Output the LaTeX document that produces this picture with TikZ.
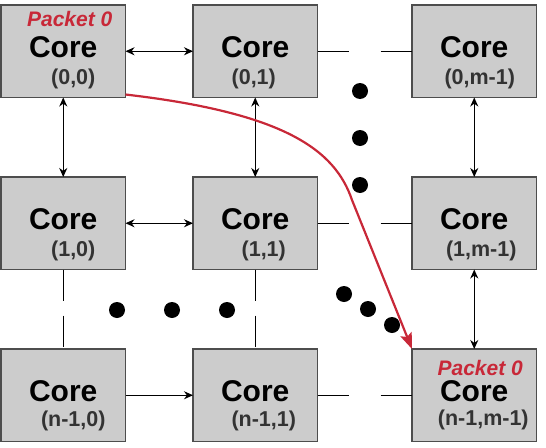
\documentclass[tikz,border=0pt]{standalone}
\usepackage{fontspec}
\setmainfont{Liberation Sans}
\usepackage{tikz}
\usetikzlibrary{matrix,arrows.meta}

\definecolor{boxgray}{RGB}{204,204,204}
\definecolor{boxline}{RGB}{77,77,77}
\definecolor{labelgray}{RGB}{51,51,51}
\definecolor{packetred}{RGB}{200,40,56}

\tikzset{
  corebox/.style={draw=boxline, fill=boxgray, line width=1.5pt,
    minimum width=124.5pt, minimum height=92.5pt, inner sep=0pt,
    font=\bfseries\fontsize{30}{36}\selectfont, text height=21pt, text depth=9pt},
  coord/.style={text=labelgray, inner sep=0pt,
    font=\bfseries\fontsize{21.5}{25}\selectfont},
  packet/.style={text=packetred, inner sep=0pt,
    font=\bfseries\itshape\fontsize{21}{25}\selectfont},
  link/.style={line width=1.4pt, >={Stealth[length=9pt,width=8pt]}},
  gaph/.style={link, dash pattern=on 31pt off 32pt},
  gapv/.style={link, dash pattern=on 31pt off 15pt}
}

\begin{document}
\begin{tikzpicture}[x=1pt, y=-1pt]
  \useasboundingbox (0,0) rectangle (546,447);
  \matrix (m) [matrix of nodes, nodes={corebox}, row sep=78pt, column sep=66pt,
    inner sep=0pt, outer sep=0pt, anchor=north west] at (0.25,4.25)
  {
Core & Core &[27pt] Core \\
Core & Core & Core \\
Core & Core & Core \\
};
  % core indices
  \node[coord, xshift=10pt,   yshift=-27.5pt] (i00) at (m-1-1) {(0,0)};
  \node[coord, xshift=-1.5pt, yshift=-27.5pt] (i01) at (m-1-2) {(0,1)};
  \node[coord, xshift=5.5pt,  yshift=-27.5pt] (i0m) at (m-1-3) {(0,m-1)};
  \node[coord, xshift=10pt,   yshift=-27.5pt] (i10) at (m-2-1) {(1,0)};
  \node[coord, xshift=8.5pt,  yshift=-27.5pt] (i11) at (m-2-2) {(1,1)};
  \node[coord, xshift=7pt,    yshift=-27.5pt] (i1m) at (m-2-3) {(1,m-1)};
  \node[coord, xshift=10pt,   yshift=-25.5pt] (in0) at (m-3-1) {(n-1,0)};
  \node[coord, xshift=8.5pt,  yshift=-25.5pt] (in1) at (m-3-2) {(n-1,1)};
  \node[coord, xshift=9pt,    yshift=-25pt]   (inm) at (m-3-3) {(n-1,m-1)};
  % packet
  \node[packet, xshift=6.5pt, yshift=32.5pt] (p0) at (m-1-1) {Packet 0};
  \node[packet, xshift=6pt,   yshift=27.5pt] (p1) at (m-3-3) {Packet 0};

  \path[link,<->]
  (m-1-1) edge (m-1-2)
  (m-2-1) edge (m-2-2)
  (m-1-1) edge (m-2-1)
  (m-1-2) edge (m-2-2)
  (m-1-3) edge (m-2-3)
  (m-2-3) edge (m-3-3)
  ;
  \path[link,->] (m-3-1) edge (m-3-2);
  \path[gaph]
  (m-1-2) edge (m-1-3)
  (m-2-2) edge (m-2-3)
  (m-3-2) edge (m-3-3)
  ;
  \path[gapv]
  (m-2-1) edge (m-3-1)
  (m-2-2) edge (m-3-2)
  ;
  % ellipsis dots
  \foreach \dx/\dy in {360/91, 360/138, 360/185, 117/310, 172/310, 227/310,
                       344/294, 368/309, 392/325}
    \fill (\dx,\dy) circle (8pt);
  % route of the packet
  \draw[packetred, line width=2.2pt, -{Stealth[length=16pt,width=12pt,inset=3pt]}]
  ([yshift=3pt]m-1-1.south east) .. controls (285,113) and (335,150) .. (352,200)
  -- (m-3-3.north west);
\end{tikzpicture}
\end{document}
